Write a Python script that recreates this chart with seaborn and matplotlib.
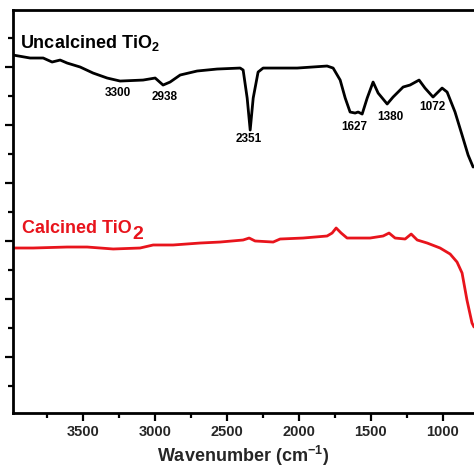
import numpy as np
import pandas as pd
import matplotlib
matplotlib.use("Agg")
import matplotlib.pyplot as plt
from matplotlib.ticker import MultipleLocator
import seaborn as sns

# ---- data ----
wn_uncal = [3989, 3871, 3780, 3718, 3662, 3613, 3523, 3433, 3335, 3245, 3085, 3001,
            2946, 2897, 2827, 2709, 2570, 2410, 2389, 2361, 2340, 2319, 2285, 2250,
            2013, 1805, 1763, 1714, 1679, 1645, 1610, 1589, 1561, 1526, 1485, 1450,
            1387, 1346, 1276, 1228, 1165, 1124, 1068, 1005, 970, 915, 866, 824, 789]
t_uncal = [62.06, 61.55, 61.55, 60.86, 61.20, 60.68, 60.00, 58.96, 58.10, 57.58, 57.75, 58.10,
           56.89, 57.41, 58.62, 59.31, 59.65, 59.82, 59.48, 54.65, 49.13, 54.65, 59.13, 59.82,
           59.82, 60.17, 59.82, 57.75, 54.65, 52.24, 52.06, 52.24, 51.89, 54.65, 57.41, 55.51,
           53.62, 54.82, 56.55, 56.89, 57.75, 56.37, 54.82, 56.37, 55.68, 52.24, 48.27, 44.82, 42.75]

wn_cal = [3989, 3850, 3613, 3474, 3293, 3106, 3015, 2876, 2688, 2549, 2389, 2347,
          2306, 2180, 2132, 1972, 1805, 1770, 1742, 1707, 1666, 1506, 1415, 1374,
          1332, 1262, 1220, 1178, 1109, 1019, 949, 901, 866, 832, 797, 783]
t_cal = [28.79, 28.79, 28.96, 28.96, 28.62, 28.79, 29.31, 29.31, 29.65, 29.82, 30.17, 30.51,
         30.00, 29.82, 30.34, 30.51, 30.86, 31.37, 32.24, 31.37, 30.51, 30.51, 30.86, 31.37,
         30.51, 30.34, 31.20, 30.17, 29.65, 28.79, 27.75, 26.37, 24.48, 19.82, 15.86, 15.17]

peak_labels = ["3300", "2938", "2351", "1627", "1380", "1072"]
peak_x = [3259, 2932, 2347, 1617, 1367, 1075]
peak_y = [55.51, 54.82, 47.58, 49.65, 51.37, 53.10]

x_ticks = [3500, 3000, 2500, 2000, 1500, 1000]

sns.set_theme(style="ticks")
plt.rcParams['font.family'] = ['Liberation Sans', 'DejaVu Sans']
plt.rcParams['mathtext.fontset'] = 'custom'
plt.rcParams['mathtext.rm'] = 'Liberation Sans'
plt.rcParams['mathtext.bf'] = 'Liberation Sans:bold'

fig = plt.figure(figsize=(4.74, 4.74), dpi=100)
ax = fig.add_axes([13/474, 1-413/474, 1-13/474, 403/474])

df_u = pd.DataFrame({"wn": wn_uncal, "T": t_uncal})
df_c = pd.DataFrame({"wn": wn_cal, "T": t_cal})
sns.lineplot(data=df_u, x="wn", y="T", ax=ax, color="black", lw=2.0, sort=False)
sns.lineplot(data=df_c, x="wn", y="T", ax=ax, color="#e8141c", lw=2.0, sort=False)

ax.set_xlim(3990, 783)
ax.set_ylim(0.34, 69.83)

ax.xaxis.set_major_locator(plt.FixedLocator(x_ticks))
ax.xaxis.set_minor_locator(MultipleLocator(250))
ax.yaxis.set_major_locator(MultipleLocator(10))
ax.yaxis.set_minor_locator(MultipleLocator(5))
ax.set_yticklabels([])
ax.set_xticklabels([str(v) for v in x_ticks], fontsize=10.5, fontweight='bold')
ax.tick_params(axis='both', which='major', direction='out', length=5.5, width=1.6, color='black', pad=3)
ax.tick_params(axis='both', which='minor', direction='out', length=3.5, width=1.6, color='black')

for s in ['left', 'bottom', 'top']:
    ax.spines[s].set_linewidth(2.0)
    ax.spines[s].set_color('black')
ax.spines['right'].set_visible(False)

ax.set_ylabel("")
ax.set_xlabel(r"Wavenumber (cm$^{\mathbf{-1}}$)", fontsize=13, fontweight='bold', labelpad=4)

for lab, x, y in zip(peak_labels, peak_x, peak_y):
    ax.text(x, y, lab, ha='center', va='center', fontsize=8.5, fontweight='bold', color='black')

ax.text(3940, 63.27, r"Uncalcined TiO$_{\mathbf{2}}$", ha='left', va='baseline',
        fontsize=13, fontweight='bold', color='black')

t_red = ax.text(3926, 31.38, "Calcined TiO", ha='left', va='baseline',
                fontsize=13, fontweight='bold', color='#e8141c')
ax.annotate("2", xy=(1, 0), xycoords=t_red, xytext=(0.5, -4), textcoords='offset points',
            ha='left', va='bottom', fontsize=14, fontweight='bold', color='#e8141c')

fig.savefig("out.png", dpi=100)
